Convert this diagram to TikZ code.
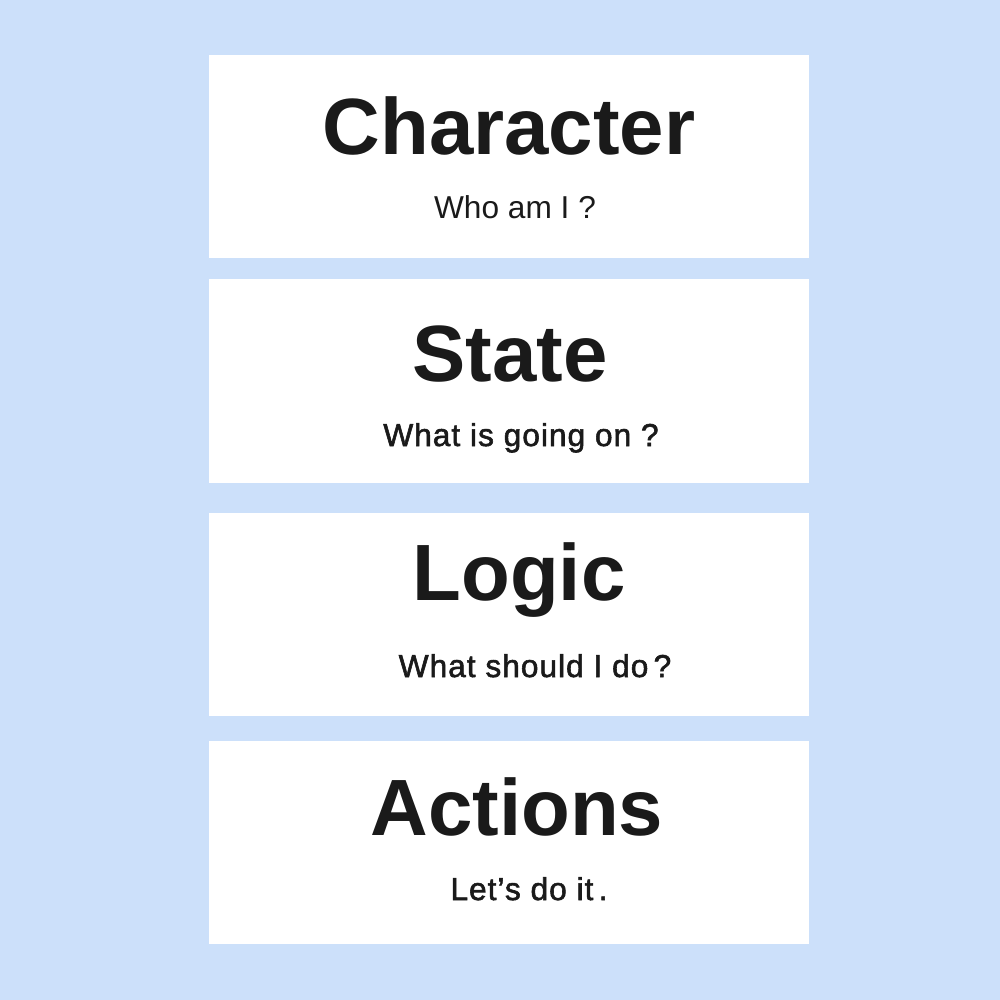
\documentclass[tikz,border=0pt]{standalone}
\usepackage{fontspec}
\setmainfont{Liberation Sans}
\newfontfamily\wideface[FakeBold=1.8, LetterSpace=3.2]{Liberation Sans}
\usetikzlibrary{positioning}
\definecolor{paleblue}{HTML}{CCE0FA}
\definecolor{inkgray}{HTML}{1A1A1A}

\begin{document}
\begin{tikzpicture}[x = .01cm, y = -.01cm,
  card/.style = {fill = white, minimum width = 6cm, minimum height = 2.03cm, inner sep = 0pt},
  title/.style = {anchor = base, text = inkgray, font = \fontsize{22.7}{27}\selectfont\bfseries},
  question/.style = {anchor = base, text = inkgray, font = \fontsize{9}{11}\selectfont},
  widequestion/.style = {question, font = \fontsize{9}{11}\selectfont\wideface}]
\fill[paleblue] (0, 0) rectangle (1000, 1000);

\node[card] (C) at (509, 156.5) {};
\node[card] (S) at (509, 381) {};
\node[card] (L) at (509, 614.5) {};
\node[card] (A) at (509, 842.5) {};

\node[title] (Ct) at (509, 154) {Character};
\node[title] (St) at (510, 381) {State};
\node[title] (Lt) at (519, 600) {Logic};
\node[title] (At) at (517, 835) {Actions};

\node[question] (Cq) at (515, 218) {Who am I ?};
\node[widequestion] (Sq) at (521, 446) {What is going on ?};
\node[widequestion] (Lq) at (535, 677) {What should I do\,?};
\node[widequestion] (Aq) at (529, 900) {Let’s do it\,.};

\end{tikzpicture}
\end{document}
